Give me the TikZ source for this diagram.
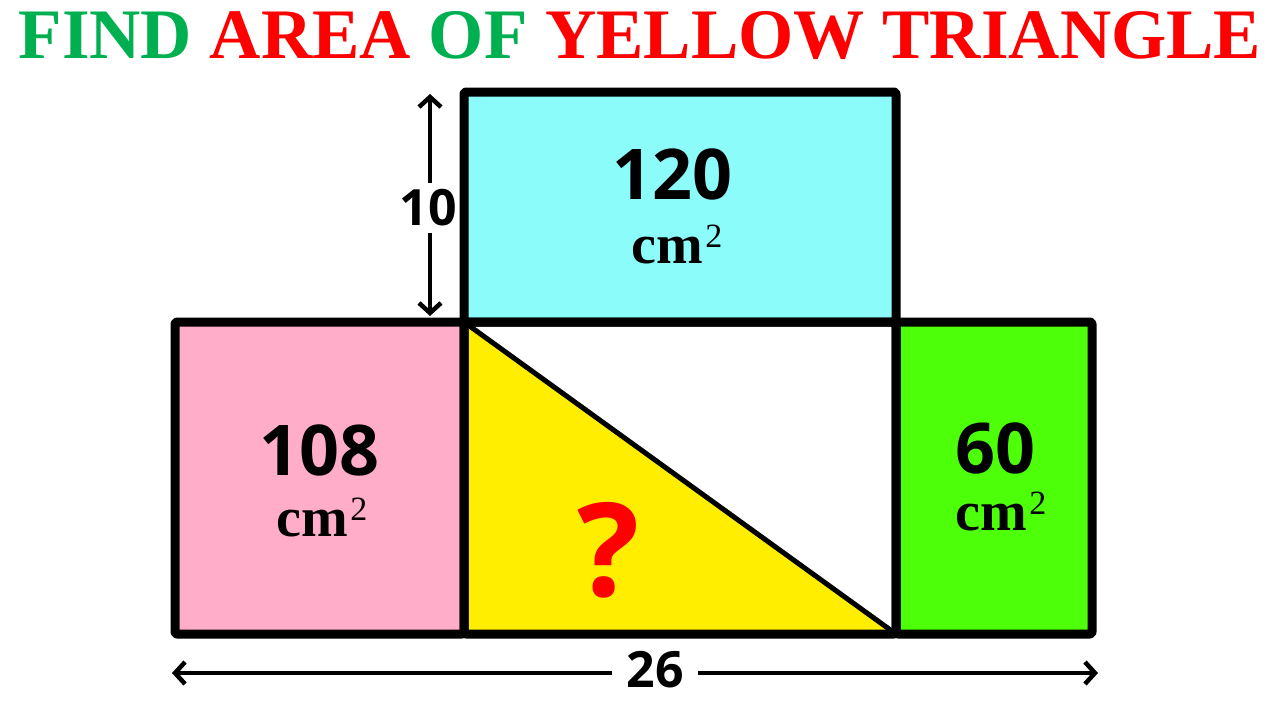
\documentclass[tikz,border=0pt]{standalone}
\usepackage{fontspec}
\setmainfont{Liberation Serif}[BoldFont={Liberation Serif Bold}]
\newfontfamily\numfont{Open Sans}[BoldFont={Open Sans Bold}]
\usetikzlibrary{arrows.meta}

\definecolor{skyfill}{RGB}{140,252,250}
\definecolor{pinkfill}{RGB}{255,173,200}
\definecolor{limefill}{RGB}{78,255,10}
\definecolor{yellowfill}{RGB}{255,238,0}
\definecolor{titlegreen}{RGB}{0,176,80}
\definecolor{titlered}{RGB}{255,0,0}

\newcommand{\sqcm}{cm\kern2pt\raisebox{16pt}{\mdseries\fontsize{34}{34}\selectfont 2}}

\tikzset{
  box/.style={line width=9pt, line join=round, rounded corners=2pt},
  dimline/.style={line width=3.5pt, -{Straight Barb[length=10pt,width=22pt,line width=4.5pt]}, shorten <=6pt},
  areanum/.style={font=\numfont\bfseries\fontsize{70}{70}\selectfont, inner sep=0pt},
  areaunit/.style={font=\bfseries\fontsize{56}{56}\selectfont, inner sep=0pt, anchor=base},
  dimlabel/.style={font=\numfont\bfseries\fontsize{50}{50}\selectfont, inner sep=0pt}
}

\begin{document}
\begin{tikzpicture}[x=1pt,y=-1pt]
            \useasboundingbox (0,0) rectangle (1280,720);
            % title
            \node (title) [anchor=base, inner sep=0pt, font=\bfseries\fontsize{71}{71}\selectfont] at (640,58)
              {\textcolor{titlegreen}{FIND} \textcolor{titlered}{AREA} \textcolor{titlegreen}{OF} \textcolor{titlered}{YELLOW TRIANGLE}};
            % corners of the figure
            \coordinate (tl) at (464,92);
            \coordinate (tr) at (896,92);
            \coordinate (ml) at (464,322);
            \coordinate (mr) at (896,322);
            \coordinate (bl) at (464,634);
            \coordinate (br) at (896,634);
            \coordinate (pl) at (175,322);
            \coordinate (pb) at (175,634);
            \coordinate (gr) at (1092,322);
            \coordinate (gb) at (1092,634);
            % fills
            \fill [skyfill] (tl) rectangle (mr);
            \fill [pinkfill] (pl) rectangle (bl);
            \fill [limefill] (mr) rectangle (gb);
            \fill [yellowfill] (ml) -- (bl) -- (br) -- cycle;
            % outlines
            \draw [box] (tl) rectangle (mr);
            \draw [box] (pl) rectangle (bl);
            \draw [box] (ml) rectangle (br);
            \draw [box] (mr) rectangle (gb);
            \draw [line width=5pt] (ml) -- (br);
            % areas
            \node (a120) [areanum] at (672,174) {120};
            \node (u120) [areaunit] at (677,263) {\sqcm};
            \node (a108) [areanum] at (319,450) {108};
            \node (u108) [areaunit] at (322,536) {\sqcm};
            \node (a60) [areanum] at (995,448) {60};
            \node (u60) [areaunit] at (1001,530) {\sqcm};
            \node (ask) [font=\numfont\bfseries\fontsize{130}{130}\selectfont, text=titlered, inner sep=0pt] at (609,550) {?};
            % dimensions
            \coordinate (vt) at (430,94);
            \coordinate (vb) at (430,316);
            \coordinate (hl) at (172,673);
            \coordinate (hr) at (1098,673);
            \node (d10) [dimlabel] at (428,208) {10};
            \node (d26) [dimlabel] at (655,670) {26};
            \draw [dimline] (d10.north -| vt) -- (vt);
            \draw [dimline] (d10.south -| vb) -- (vb);
            \draw [dimline, shorten <=14pt] (d26.west |- hl) -- (hl);
            \draw [dimline, shorten <=14pt] (d26.east |- hr) -- (hr);
        \end{tikzpicture}
\end{document}
